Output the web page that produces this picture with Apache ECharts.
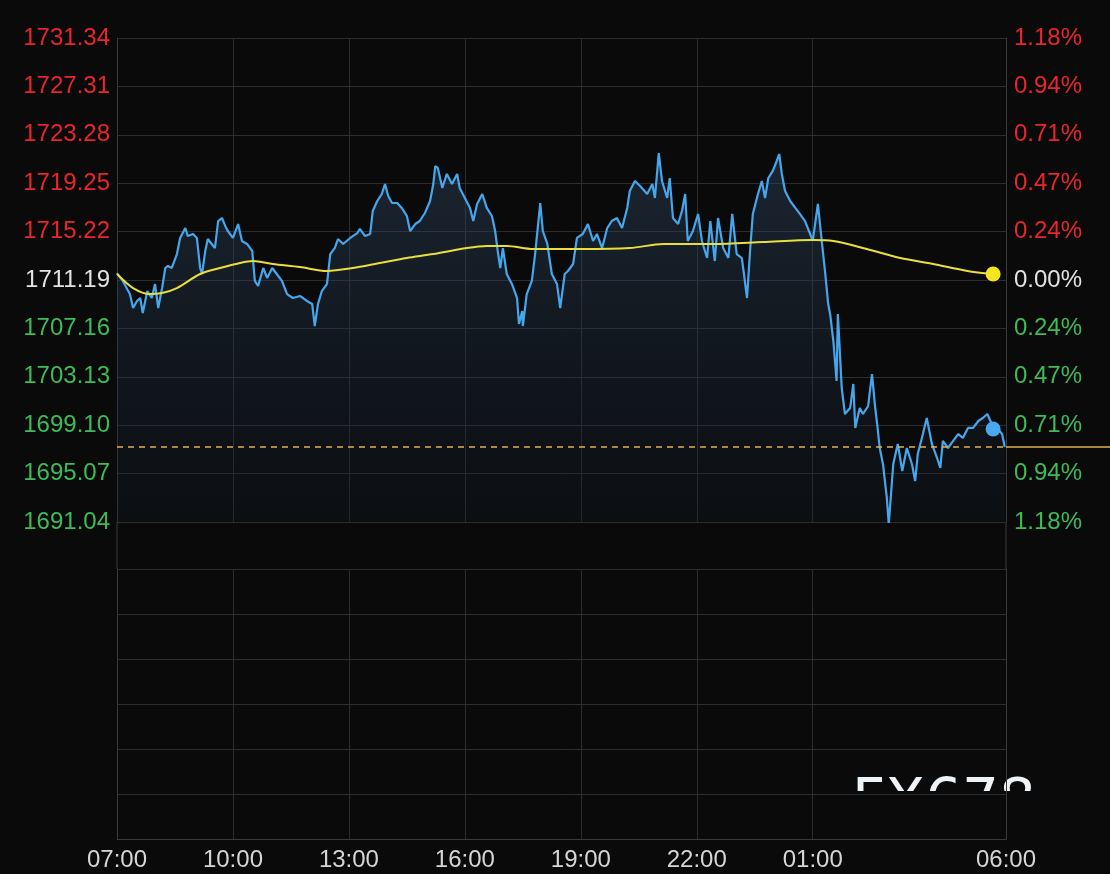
<!DOCTYPE html>
<html>
<head>
<meta charset="utf-8">
<title>现货黄金 分时</title>
<script src="https://cdn.jsdelivr.net/npm/echarts@6/dist/echarts.min.js"></script>
<style>
    html, body { margin: 0; padding: 0; background: #0a0a0a; }
    #main { width: 1110px; height: 874px; }
</style>
</head>
<body>
<div id="main"></div>
<script>
    // 时间：距 07:00 的分钟数
    var priceMinutes = [0,9,20,25,31,36,40,47,54,59,64,70,75,79,85,93,98,106,110,118,124,129,132,137,141,147,152,157,163,168,172,180,188,194,202,210,211,214,219,227,233,241,248,256,264,273,284,295,303,307,312,318,326,331,338,343,351,362,373,377,385,393,397,404,411,416,421,427,435,442,450,455,463,470,478,486,491,494,498,505,512,520,528,532,540,548,553,559,567,574,582,587,591,595,599,605,613,621,624,629,630,636,644,649,657,661,668,675,683,688,695,700,708,714,723,731,739,745,753,761,768,776,784,792,796,804,812,823,831,835,841,846,854,858,863,871,877,882,886,894,902,908,916,921,928,933,941,949,955,962,970,978,983,987,995,1001,1006,1011,1018,1024,1028,1032,1037,1045,1053,1060,1068,1076,1080,1088,1094,1099,1104,1107,1112,1117,1119,1125,1130,1138,1143,1146,1153,1158,1166,1172,1177,1180,1184,1189,1195,1198,1205,1212,1219,1226,1234,1239,1243,1251,1257,1265,1273,1278,1282,1290,1298,1306,1313,1321,1329,1337,1344,1351,1358,1366,1374,1378];
    var priceValues = [1711.77,1711.11,1710.02,1708.86,1709.44,1709.69,1708.44,1710.27,1709.69,1710.86,1708.86,1710.52,1712.19,1712.36,1712.19,1713.35,1714.69,1715.52,1714.85,1715.02,1714.69,1712.19,1711.69,1713.60,1714.60,1714.19,1713.85,1716.10,1716.35,1715.69,1715.27,1714.69,1715.85,1714.44,1714.19,1713.60,1712.94,1711.11,1710.69,1712.19,1711.36,1712.19,1711.69,1711.11,1710.02,1709.69,1709.86,1709.44,1709.19,1707.36,1709.19,1710.27,1710.86,1713.35,1713.85,1714.60,1714.19,1714.69,1715.10,1715.44,1714.85,1715.02,1716.94,1717.77,1718.35,1719.18,1718.18,1717.60,1717.60,1717.19,1716.52,1715.27,1715.85,1716.10,1716.77,1717.77,1719.18,1720.68,1720.52,1718.85,1720.02,1719.18,1720.02,1718.85,1718.02,1717.19,1716.10,1717.52,1718.35,1717.19,1716.52,1715.27,1713.60,1712.19,1713.85,1711.69,1710.86,1709.69,1707.53,1708.61,1707.36,1710.02,1711.11,1713.35,1717.60,1715.27,1714.19,1711.69,1710.86,1708.86,1711.69,1711.94,1712.52,1714.69,1715.02,1715.85,1714.44,1715.02,1713.85,1715.52,1716.10,1716.35,1715.52,1717.19,1718.60,1719.43,1719.02,1718.35,1719.18,1718.02,1721.76,1719.43,1718.02,1719.68,1716.35,1715.85,1716.94,1718.35,1714.44,1715.27,1716.69,1714.44,1713.02,1716.10,1712.77,1716.35,1713.85,1713.02,1716.69,1713.35,1713.02,1709.69,1713.85,1716.69,1718.35,1719.43,1718.02,1719.68,1720.27,1721.10,1721.68,1720.02,1718.60,1717.77,1717.19,1716.69,1716.10,1715.02,1714.44,1717.52,1714.44,1711.94,1709.19,1708.36,1706.11,1702.78,1708.36,1702.20,1700.03,1700.53,1702.53,1698.87,1700.53,1700.03,1700.70,1703.36,1700.53,1699.20,1697.20,1695.87,1693.04,1690.87,1695.87,1697.54,1695.29,1697.20,1695.87,1694.45,1696.70,1698.37,1699.70,1697.54,1696.37,1695.54,1697.79,1697.20,1697.79,1698.37,1698.03,1698.87,1698.87,1699.45,1699.70,1700.03,1699.20,1698.87,1698.37,1697.29];

    var avgMinutes = [0,25,51,70,93,129,160,191,211,242,284,326,366,408,450,491,543,574,605,646,719,796,848,925,1003,1080,1112,1164,1216,1267,1320,1360];
    var avgValues = [1711.69,1710.52,1710.02,1710.11,1710.52,1711.69,1712.19,1712.61,1712.77,1712.52,1712.27,1711.94,1712.19,1712.61,1713.02,1713.35,1713.85,1714.02,1714.02,1713.77,1713.77,1713.85,1714.19,1714.19,1714.35,1714.52,1714.44,1713.77,1713.02,1712.52,1711.94,1711.69];

    var baseValue = 1711.19;   // 昨收
    var lastPrice = 1697.29;   // 最新价
    var lastDot = [1360, 1698.78];

    var yTicks = [1691.04,1695.07,1699.10,1703.13,1707.16,1711.19,1715.22,1719.25,1723.28,1727.31,1731.34];
    var xTicks = [0,180,360,540,720,900,1080,1380];
    var xTickLabels = ['07:00','10:00','13:00','16:00','19:00','22:00','01:00','06:00'];

    var RED = '#e8262b', GREEN = '#3dbb59', WHITE = '#e2e2e2';
    var gridColor = '#2d2d2d', frameColor = '#3a3a3a';

    function zip(a, b) {
        var out = [];
        for (var i = 0; i < a.length; i++) out.push([a[i], b[i]]);
        return out;
    }
    function priceColor(v) {
        if (v > baseValue + 0.005) return RED;
        if (v < baseValue - 0.005) return GREEN;
        return WHITE;
    }
    function timeLabel(v) {
        var i = xTicks.indexOf(Math.round(v));
        return i < 0 ? '' : xTickLabels[i];
    }

    var myChart = echarts.init(document.getElementById('main'));

    var option = {
        backgroundColor: '#0a0a0a',
        animation: false,
        textStyle: { fontFamily: 'Liberation Sans, Arial, sans-serif' },
        grid: [
            { left: 117, right: 104, top: 38, height: 484 },
            { left: 117, right: 104, top: 569, bottom: 35 }
        ],
        xAxis: [
            {
                type: 'value', gridIndex: 0, min: 0, max: 1380,
                axisLine: { show: false },
                axisTick: { show: false, customValues: xTicks },
                axisLabel: { show: false, customValues: xTicks },
                splitLine: { show: true, lineStyle: { color: gridColor, width: 1 } }
            },
            {
                type: 'value', gridIndex: 1, min: 0, max: 1380,
                axisLine: { show: true, lineStyle: { color: frameColor, width: 1 } },
                axisTick: { show: false, customValues: xTicks },
                axisLabel: {
                    show: true, customValues: xTicks, formatter: timeLabel,
                    color: '#d6d6d6', fontSize: 24, margin: 9
                },
                splitLine: { show: true, lineStyle: { color: gridColor, width: 1 } }
            }
        ],
        yAxis: [
            {
                type: 'value', gridIndex: 0, min: 1691.04, max: 1731.34, position: 'left',
                axisLine: { show: true, lineStyle: { color: frameColor } },
                axisTick: { show: false, customValues: yTicks },
                axisLabel: {
                    customValues: yTicks, fontSize: 24, margin: 7,
                    formatter: function (v) { return v.toFixed(2); },
                    color: function (v) { return priceColor(Number(v)); }
                },
                splitLine: { show: true, lineStyle: { color: gridColor, width: 1 } }
            },
            {
                type: 'value', gridIndex: 0, min: 1691.04, max: 1731.34, position: 'right',
                axisLine: { show: true, lineStyle: { color: frameColor } },
                axisTick: { show: false, customValues: yTicks },
                axisLabel: {
                    customValues: yTicks, fontSize: 24, margin: 8,
                    formatter: function (v) {
                        return (Math.abs(v - baseValue) / baseValue * 100).toFixed(2) + '%';
                    },
                    color: function (v) { return priceColor(Number(v)); }
                },
                splitLine: { show: false }
            },
            {
                type: 'value', gridIndex: 1, min: 0, max: 6, interval: 1,
                axisLine: { show: true, lineStyle: { color: frameColor } },
                axisTick: { show: false },
                axisLabel: { show: false },
                splitLine: { show: true, lineStyle: { color: gridColor, width: 1 } }
            },
            {
                type: 'value', gridIndex: 1, min: 0, max: 6, interval: 1, position: 'right',
                axisLine: { show: true, lineStyle: { color: frameColor } },
                axisTick: { show: false },
                axisLabel: { show: false },
                splitLine: { show: false }
            }
        ],
        series: [
            {
                name: '价格',
                type: 'line',
                xAxisIndex: 0, yAxisIndex: 0,
                data: zip(priceMinutes, priceValues),
                showSymbol: false,
                lineStyle: { color: '#46a6ec', width: 2.2 },
                areaStyle: {
                    color: new echarts.graphic.LinearGradient(0, 0, 0, 1, [
                        { offset: 0, color: 'rgba(50, 76, 106, 0.6)' },
                        { offset: 1, color: 'rgba(18, 28, 42, 0.35)' }
                    ])
                },
                markLine: {
                    silent: true, symbol: ['none', 'none'],
                    label: { show: false },
                    lineStyle: { color: '#e3b04c', type: [6, 5], width: 1.5 },
                    data: [{ yAxis: lastPrice }]
                },
                markPoint: {
                    symbol: 'circle', symbolSize: 15,
                    itemStyle: { color: '#4aa8ee' },
                    label: { show: false },
                    data: [{ coord: lastDot }]
                },
                z: 3
            },
            {
                name: '均价',
                type: 'line',
                xAxisIndex: 0, yAxisIndex: 0,
                data: zip(avgMinutes, avgValues),
                showSymbol: false,
                smooth: 0.3,
                lineStyle: { color: '#e9df3c', width: 2 },
                markPoint: {
                    symbol: 'circle', symbolSize: 15,
                    itemStyle: { color: '#f3e51f' },
                    label: { show: false },
                    data: [{ coord: [avgMinutes[avgMinutes.length - 1], avgValues[avgValues.length - 1]] }]
                },
                z: 4
            }
        ]
    };

    myChart.setOption(option);

    // 最新价线延伸到右侧刻度区，及两个面板之间的边框
    var py = myChart.convertToPixel({ yAxisIndex: 0 }, lastPrice);
    var xL = myChart.convertToPixel({ xAxisIndex: 0 }, 0);
    var xR = myChart.convertToPixel({ xAxisIndex: 0 }, 1380);
    var yTop1 = myChart.convertToPixel({ yAxisIndex: 0 }, 1691.04);
    var yTop2 = myChart.convertToPixel({ yAxisIndex: 2 }, 6);

    myChart.setOption({
        graphic: [
            { type: 'line', shape: { x1: xR, y1: py, x2: 1110, y2: py }, style: { stroke: '#e3b04c', lineWidth: 1.5 }, z: 5 },
            { type: 'line', shape: { x1: xL, y1: yTop1, x2: xL, y2: yTop2 }, style: { stroke: frameColor, lineWidth: 1 } },
            { type: 'line', shape: { x1: xR, y1: yTop1, x2: xR, y2: yTop2 }, style: { stroke: frameColor, lineWidth: 1 } },
            // 水印（被裁去下半部分）
            { type: 'text', left: 852, top: 776, z: -2, style: { text: 'FX678', fill: '#eef3f7', font: '58px DejaVu Sans' } },
            { type: 'rect', shape: { x: 840, y: 791, width: 220, height: 45 }, style: { fill: '#0a0a0a' }, z: -1 }
        ]
    });
</script>
</body>
</html>
